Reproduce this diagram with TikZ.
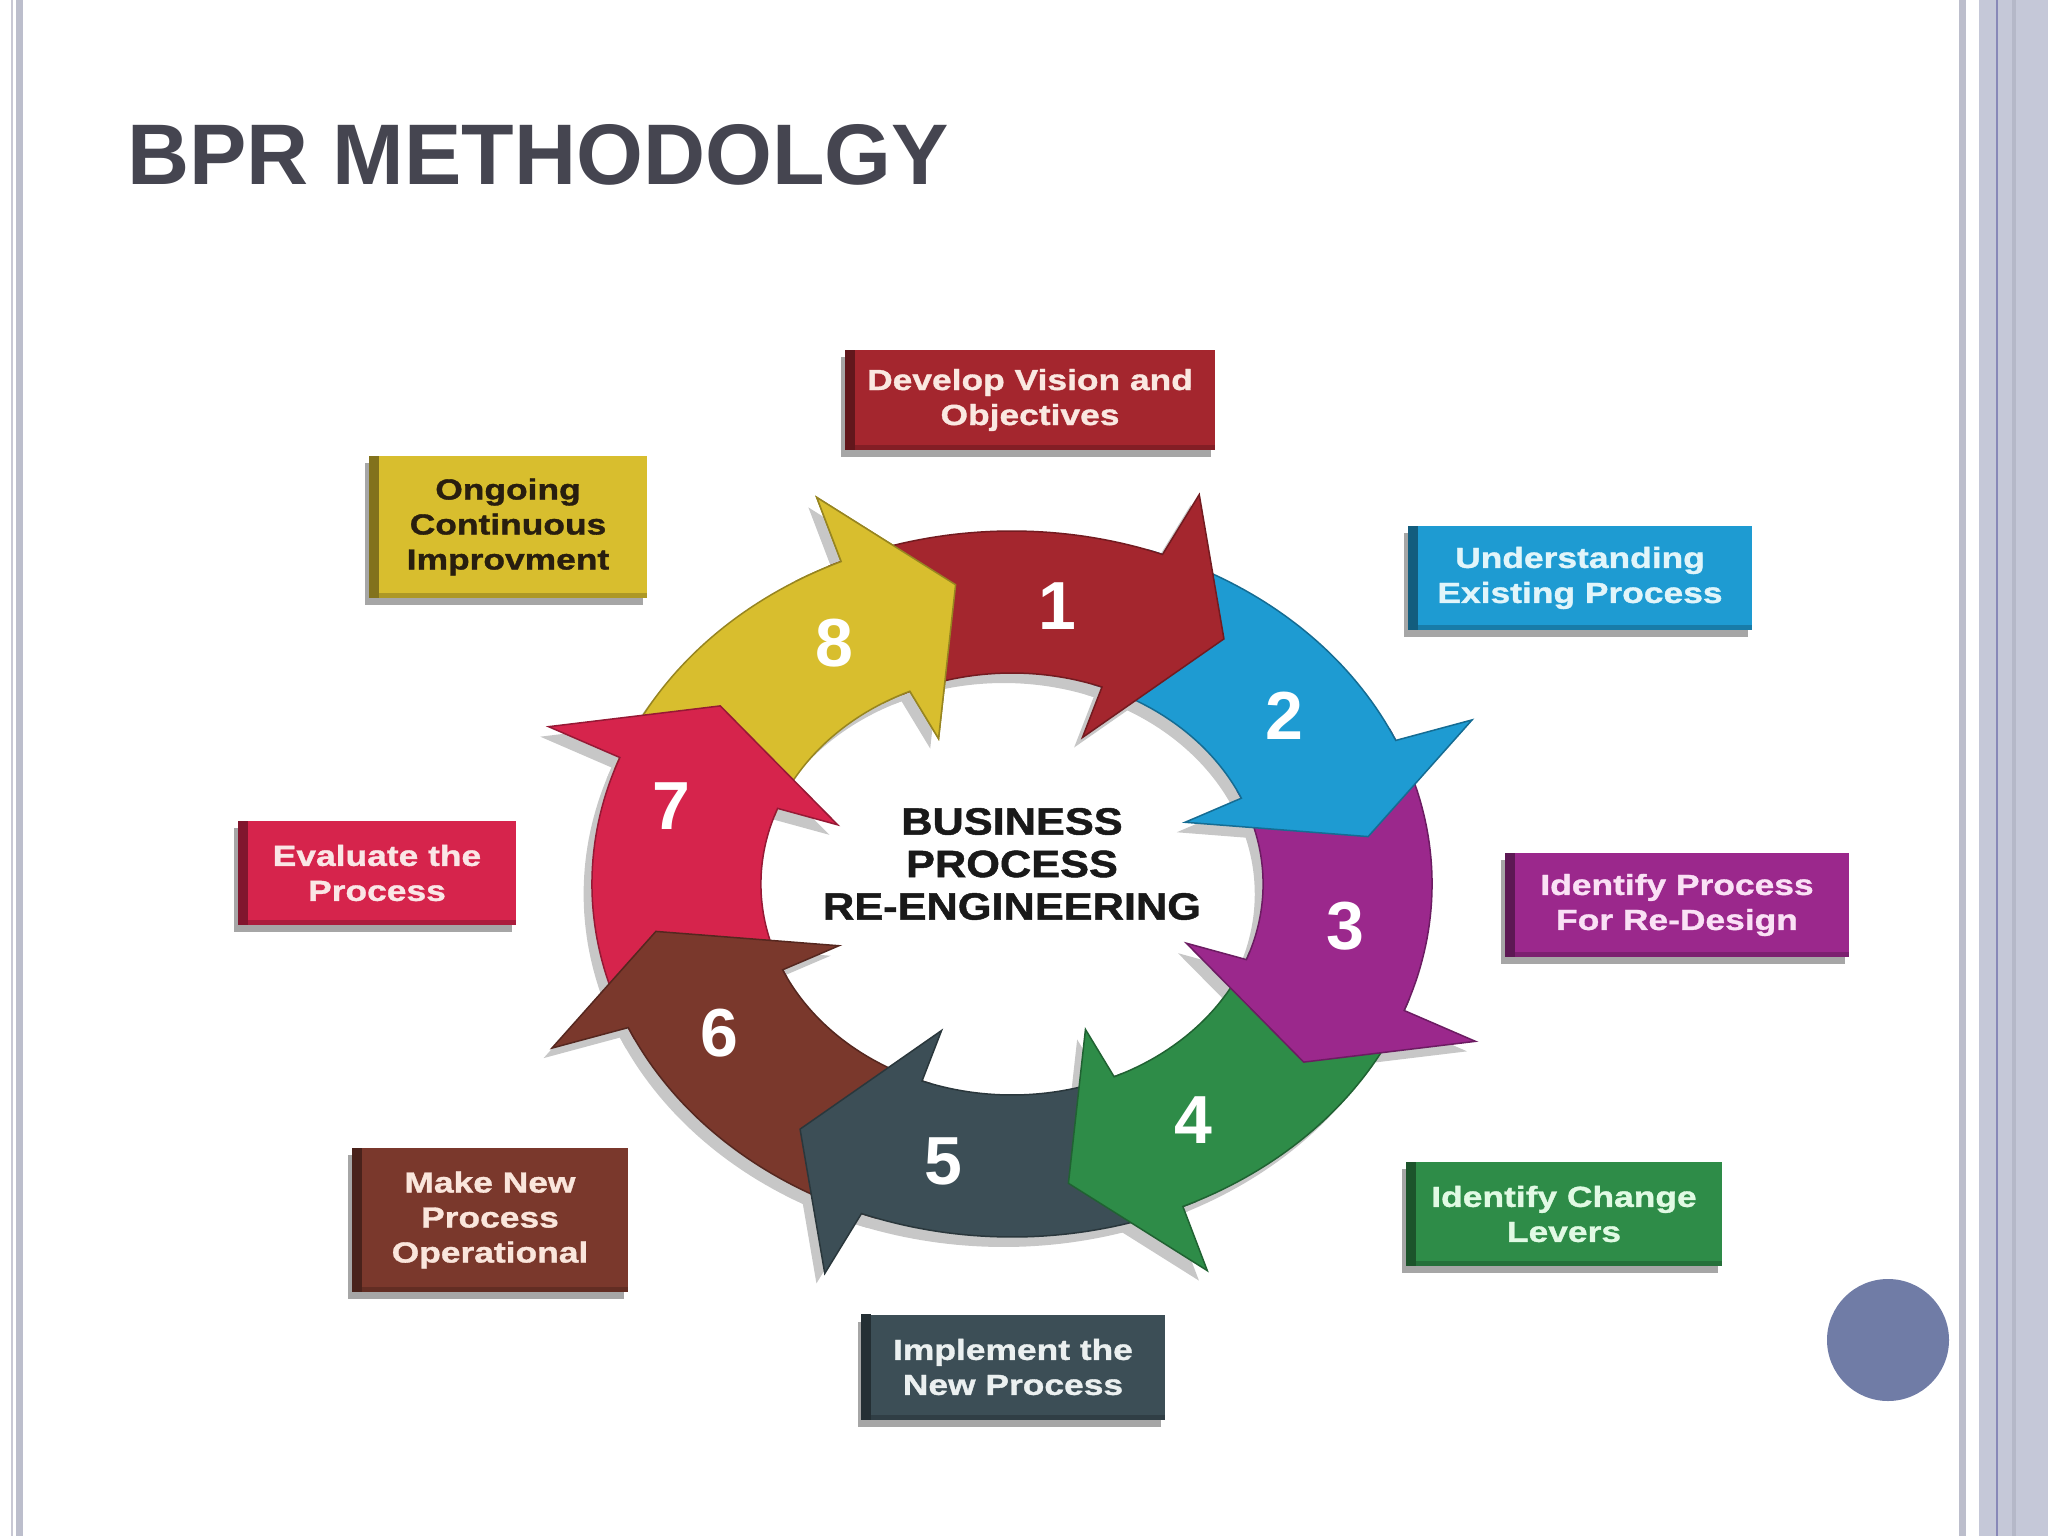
\documentclass[tikz,border=0pt]{standalone}
\usepackage{fontspec}
\setmainfont{Liberation Sans}
\newfontfamily\boxfont{Liberation Sans}[FakeStretch=1.22,FakeBold=1.2]
\newfontfamily\ctrfont{Liberation Sans}[FakeStretch=1.14,FakeBold=1.2]
\usetikzlibrary{shadows}
\definecolor{titlecol}{RGB}{69,69,80}
\definecolor{lineA}{RGB}{200,200,212}
\definecolor{lineB}{RGB}{188,190,204}
\definecolor{sideband}{RGB}{197,200,216}
\definecolor{sidedark}{RGB}{136,136,184}
\definecolor{sidemid}{RGB}{181,184,200}
\definecolor{dotblue}{RGB}{112,124,166}
\definecolor{cA}{RGB}{164,38,46}
\definecolor{cB}{RGB}{30,155,210}
\definecolor{cC}{RGB}{155,40,140}
\definecolor{cD}{RGB}{46,140,72}
\definecolor{cE}{RGB}{60,78,86}
\definecolor{cF}{RGB}{122,56,44}
\definecolor{cG}{RGB}{214,36,76}
\definecolor{cH}{RGB}{216,190,46}
\definecolor{tA}{RGB}{250,232,225}
\definecolor{tB}{RGB}{225,245,250}
\definecolor{tC}{RGB}{250,225,245}
\definecolor{tD}{RGB}{225,250,228}
\definecolor{tE}{RGB}{235,240,240}
\definecolor{tF}{RGB}{250,230,220}
\definecolor{tG}{RGB}{250,230,230}
\definecolor{tH}{RGB}{40,30,15}
\tikzset{
  card/.style={inner sep=0pt, align=center,
    font={\boxfont\bfseries\fontsize{29}{35}\selectfont},
    drop shadow={shadow xshift=-4pt, shadow yshift=-7pt, opacity=0.35, fill=black}},
  numlab/.style={inner sep=0pt, text=white, font={\bfseries\fontsize{68}{80}\selectfont}},
}
\begin{document}
\begin{tikzpicture}[x=1pt,y=-1pt]
\useasboundingbox (0,0) rectangle (2048,1536);
\fill[white] (0,0) rectangle (2048,1536);
% slide frame
\fill[lineA] (11,0) rectangle (13,1536);
\fill[lineB] (16,0) rectangle (23,1536);
\fill[lineB] (1959,0) rectangle (1966,1536);
\fill[sideband] (1979,0) rectangle (2048,1536);
\fill[sidedark] (1996,0) rectangle (1998,1536);
\fill[sidemid] (2012,0) rectangle (2016,1536);
\fill[dotblue] (1888,1340) circle[radius=61pt];
% title
\node[anchor=base west, inner sep=0pt, text=titlecol,
  font={\bfseries\fontsize{86}{100}\selectfont}] (title) at (127,184) {BPR METHODOLGY};
% ring of arrows
\begin{scope}[shift={(1012,884)}, xscale=1.19]
  \begin{scope}[transparency group, opacity=0.22]
    \foreach \bb in {246,201,156,111,66,21,-24,-69} {
      \pgfmathsetmacro\ba{\bb-47}
      \fill[black, shift={(-7,10)}] plot[domain=\ba:\bb,samples=40] (\x:353) -- (\bb+1:420) -- (\bb+15:303) -- (\bb+1:158) -- plot[domain=\bb:\ba,samples=40] (\x:211) -- cycle;
    }
  \end{scope}
  \foreach \bb/\col in {246/cH,201/cG,156/cF,111/cE,66/cD,21/cC,-24/cB,-69/cA} {
    \pgfmathsetmacro\ba{\bb-47}
    \fill[\col, draw=\col!70!black, line width=1.5pt] plot[domain=\ba:\bb,samples=40] (\x:353) -- (\bb+1:420) -- (\bb+15:303) -- (\bb+1:158) -- plot[domain=\bb:\ba,samples=40] (\x:211) -- cycle;
  }
  \begin{scope}
    \clip (0,0) -- (239:650) -- (250:650) -- (260:650) -- (272:650) -- cycle;
    \def\bb{246}\pgfmathsetmacro\ba{\bb-47}
    \fill[cH, draw=cH!70!black, line width=1.5pt] plot[domain=\ba:\bb,samples=40] (\x:353) -- (\bb+1:420) -- (\bb+15:303) -- (\bb+1:158) -- plot[domain=\bb:\ba,samples=40] (\x:211) -- cycle;
  \end{scope}
\end{scope}
% numbers
\node[numlab] (n1) at (1057,606) {1};
\node[numlab] (n2) at (1284,716) {2};
\node[numlab] (n3) at (1345,926) {3};
\node[numlab] (n4) at (1193,1120) {4};
\node[numlab] (n5) at (943,1161) {5};
\node[numlab] (n6) at (719,1033) {6};
\node[numlab] (n7) at (671,806) {7};
\node[numlab] (n8) at (834,643) {8};
% centre text
\node[inner sep=0pt, align=center, text={rgb,255:red,25;green,25;blue,25},
  font={\ctrfont\bfseries\fontsize{38}{42.5}\selectfont}] (ctr) at (1012,864)
  {BUSINESS\\PROCESS\\RE-ENGINEERING};
% cards
\node[card, fill=cA, text=tA, minimum width=370pt, minimum height=100pt] (b1) at (1030,400) {Develop Vision and\\Objectives};
\node[card, fill=cB, text=tB, minimum width=344pt, minimum height=104pt] (b2) at (1580,578) {Understanding\\Existing Process};
\node[card, fill=cC, text=tC, minimum width=344pt, minimum height=104pt] (b3) at (1677,905) {Identify Process\\For Re-Design};
\node[card, fill=cD, text=tD, minimum width=316pt, minimum height=104pt] (b4) at (1564,1214) {Identify Change\\Levers};
\node[card, fill=cE, text=tE, minimum width=303pt, minimum height=105pt] (b5) at (1013,1367) {Implement the\\New Process};
\node[card, fill=cF, text=tF, minimum width=276pt, minimum height=144pt] (b6) at (490,1220) {Make New\\Process\\Operational};
\node[card, fill=cG, text=tG, minimum width=278pt, minimum height=104pt] (b7) at (377,873) {Evaluate the\\Process};
\node[card, fill=cH, text=tH, minimum width=278pt, minimum height=142pt] (b8) at (508,527) {Ongoing\\Continuous\\Improvment};
\foreach \nm/\col in {b1/cA,b2/cB,b3/cC,b4/cD,b5/cE,b6/cF,b7/cG,b8/cH} {
  \fill[\col!60!black] (\nm.north west) rectangle ([xshift=10pt]\nm.south west);
  \fill[\col!80!black] ([xshift=10pt,yshift=5pt]\nm.south west) rectangle (\nm.south east);
}
\end{tikzpicture}
\end{document}
